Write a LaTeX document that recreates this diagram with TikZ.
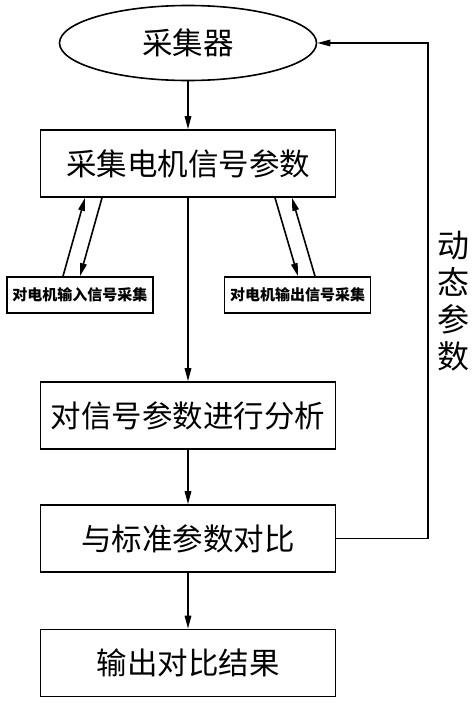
\documentclass[tikz,border=0pt]{standalone}
\usepackage{fontspec}
\setmainfont{Noto Sans CJK SC}
\usetikzlibrary{arrows.meta}
\usetikzlibrary{shapes.geometric}

\begin{document}
\begin{tikzpicture}[
            x=1pt, y=-1pt,
            line width=1.6pt,
            flow/.style={-{Triangle[length=13pt, width=6.5pt]}},
            mainbox/.style={draw, rectangle, minimum width=295pt,
                minimum height=67pt, inner sep=0pt, font=\fontsize{30.5}{32}\selectfont},
            subbox/.style={draw, rectangle, minimum width=146pt,
                minimum height=36pt, inner sep=0pt, font=\bfseries\fontsize{15}{16}\selectfont},
        ]
            \useasboundingbox (0, 0) rectangle (474, 704);

            %% the chain of steps down the middle
            \node[draw, ellipse, minimum width=257pt, minimum height=75pt,
                inner sep=0pt, font=\fontsize{30.5}{32}\selectfont] (collector) at (188, 43) {采集器};
            \node[mainbox] (acquire) at (188, 163.5) {采集电机信号参数};
            \node[subbox] (inmotor) at (80, 295) {对电机输入信号采集};
            \node[subbox] (outmotor) at (297.5, 295) {对电机输出信号采集};
            \node[mainbox] (analyse) at (188, 415.5) {对信号参数进行分析};
            \node[mainbox] (compare) at (188, 538.5) {与标准参数对比};
            \node[mainbox] (result) at (188, 663) {输出对比结果};

            \draw[flow] (collector) -- (acquire);
            \draw[flow] (acquire) -- (analyse);
            \draw[flow] (analyse) -- (compare);
            \draw[flow] (compare) -- (result);

            %% the two-way links to the motor signal sampling
            \draw[flow] ([xshift=-17pt]inmotor.north) -- ([xshift=-103pt]acquire.south);
            \draw[flow] ([xshift=-86pt]acquire.south) -- ([xshift=0pt]inmotor.north);
            \draw[flow] ([xshift=87pt]acquire.south) -- ([xshift=0.5pt]outmotor.north);
            \draw[flow] ([xshift=17.5pt]outmotor.north) -- ([xshift=104pt]acquire.south);

            %% feedback of the dynamic parameters
            \coordinate (loopbottom) at (428, 538.5);
            \coordinate (looptop) at (428, 43);
            \draw[flow] (compare.east) -- (loopbottom) -- (looptop) -- (collector.east);
            \node[align=center, font=\fontsize{32}{37}\selectfont] (dynamic) at (453, 301)
                {动\\态\\参\\数};
        \end{tikzpicture}
\end{document}
